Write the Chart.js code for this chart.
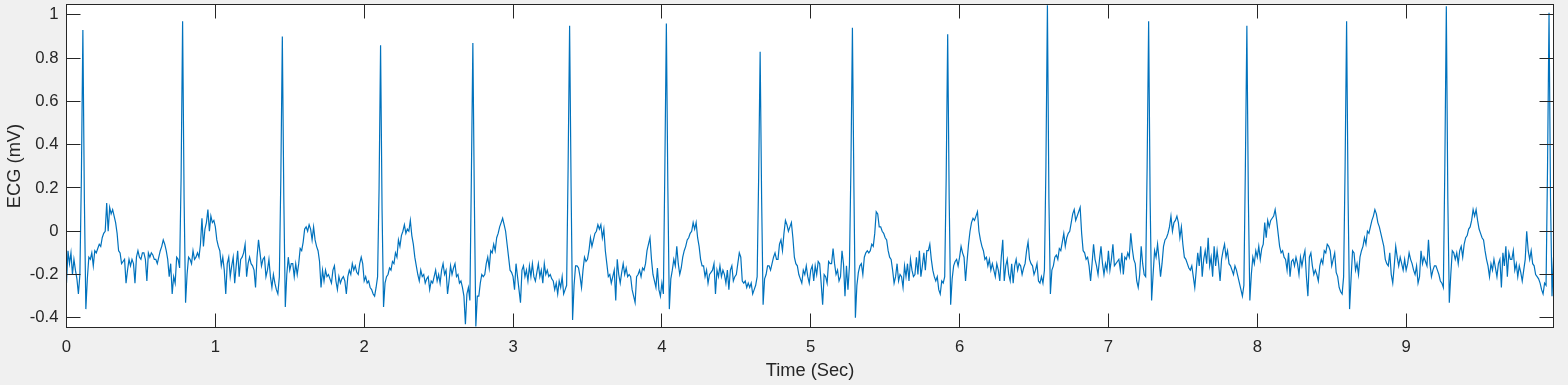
<!DOCTYPE html>
<html><head><meta charset="utf-8">
<script src="https://cdn.jsdelivr.net/npm/chart.js@4.4.1/dist/chart.umd.min.js"></script>
<style>html,body{margin:0;padding:0;background:#f0f0f0;overflow:hidden}canvas{display:block}</style>
</head><body><canvas id="c" width="1568" height="385"></canvas>
<script>
// ECG samples, one array per second, sampled every 0.01 s, values in hundredths of a mV
const SAMPLE_STEP_SEC = 0.01;
const VALUE_UNIT_MV = 0.01;
const s0 = [-24,-9,-15,-10,-20,-13,-18,-22,-29,-20, 25,93,15,-36,-22,-12,-13,-10,-16,-9, -10,-8,-6,-7,-3,-1,0,13,0,11, 8,10,7,4,-1,-9,-10,-15,-14,-13, -24,-18,-13,-16,-13,-15,-24,-12,-9,-12, -13,-10,-10,-13,-23,-10,-12,-10,-11,-13, -13,-15,-12,-9,-7,-4,-6,-9,-13,-21, -15,-29,-21,-24,-12,-13,-17,25,97,15, -33,-20,-12,-13,-15,-9,-13,-12,-10,-12, -6,6,-7,1,4,10,0,7,4,5];
const s1 = [2,-4,-7,-9,-16,-12,-18,-29,-15,-12, -21,-16,-12,-24,-16,-9,-21,-13,-12,-10, -6,-21,-15,-12,-15,-16,-18,-26,-12,-4, -10,-16,-13,-12,-21,-18,-13,-21,-26,-20, -24,-27,-29,-21,25,90,15,-35,-20,-12, -18,-15,-15,-21,-15,-20,-15,-8,-9,-5, 1,2,0,3,1,-4,2,-4,-7,-9, -14,-26,-18,-23,-18,-21,-20,-22,-24,-18, -16,-23,-27,-21,-24,-22,-21,-23,-29,-21, -18,-20,-15,-18,-16,-19,-20,-15,-12,-15];
const s2 = [-23,-21,-24,-23,-26,-27,-29,-30,-26,-21, 20,86,10,-35,-24,-21,-20,-17,-18,-14, -15,-10,-12,-4,-7,-2,0,3,-1,1, 0,5,-2,-6,-12,-16,-20,-23,-18,-21, -20,-24,-22,-21,-27,-23,-24,-21,-18,-23, -20,-24,-18,-15,-20,-18,-29,-23,-16,-20, -17,-15,-21,-20,-24,-23,-26,-30,-43,-29, -26,-32,25,87,15,-44,-30,-30,-24,-20, -21,-20,-15,-12,-17,-9,-10,-6,-9,-3, -1,2,4,6,3,0,-6,-12,-18,-19];
const s3 = [-21,-27,-15,-21,-27,-33,-18,-16,-21,-18, -23,-16,-21,-15,-21,-23,-19,-15,-21,-18, -24,-15,-20,-18,-21,-20,-22,-23,-27,-24, -29,-23,-26,-21,-29,-27,-25,30,95,20, -41,-25,-16,-16,-17,-21,-26,-18,-12,-14, -13,-9,-3,-7,-4,-1,0,3,1,3, -3,1,-9,-15,-21,-20,-24,-21,-18,-32, -13,-20,-24,-19,-15,-20,-17,-21,-20,-21, -27,-30,-33,-21,-20,-18,-21,-17,-18,-15, -9,-6,-3,-13,-20,-23,-26,-17,-27,-30];
const s4 = [-24,-29,30,96,20,-36,-22,-18,-13,-16, -7,-15,-20,-17,-12,-9,-7,-4,-3,-1, 0,4,1,4,-3,-7,-13,-16,-16,-21, -18,-24,-20,-19,-18,-15,-29,-18,-21,-16, -21,-18,-20,-24,-18,-27,-18,-16,-23,-21, -20,-15,-10,-12,-23,-24,-23,-26,-24,-26, -24,-29,-27,-25,-21,25,83,15,-34,-22, -20,-16,-16,-18,-15,-12,-10,-13,-13,-6, -4,-9,-1,5,3,0,2,4,-3,-12, -15,-16,-20,-22,-24,-18,-20,-16,-21,-24];
const s5 = [-18,-16,-23,-16,-20,-14,-15,-24,-34,-20, -21,-24,-14,-15,-15,-8,-15,-20,-18,-23, -21,-9,-15,-30,-16,-27,-16,30,94,20, -40,-25,-19,-16,-15,-20,-12,-10,-9,-10, -9,-6,-7,-1,9,8,2,2,0,-1, -3,-4,-9,-12,-13,-18,-24,-21,-15,-23, -20,-21,-26,-16,-21,-15,-23,-13,-18,-21, -20,-12,-20,-9,-21,-16,-10,-18,-9,-9, -6,-13,-18,-21,-23,-21,-27,-29,-23,-24, -21,25,91,15,-34,-22,-16,-14,-13,-16];
const s6 = [-12,-7,-10,-12,-23,-14,-6,0,4,6, 5,7,9,0,-4,-7,-9,-13,-12,-16, -13,-18,-15,-18,-21,-15,-18,-23,-12,-4, -23,-16,-13,-20,-23,-15,-24,-16,-13,-18, -15,-16,-20,-17,-15,-9,-5,-13,-15,-16, -20,-18,-15,-23,-24,-21,-24,-18,30,104.5, 15,-29,-18,-16,-12,-11,-13,-8,-9,-5, -1,-7,-3,-1,0,4,8,10,5,7, 9,11,-1,-9,-10,-13,-12,-16,-23,-15, -6,-13,-16,-20,-13,-7,-15,-20,-15,-18];
const s7 = [-9,-18,-13,-6,-16,-15,-14,-13,-18,-10, -20,-12,-13,-10,-12,-1,-8,-13,-15,-23, -26,-20,-7,-15,-20,-21,30,97,15,-32, -20,-9,-12,-6,-13,-21,-15,-7,-4,-3, -1,2,7,0,4,5,7,4,-3,2, -6,-12,-13,-15,-17,-18,-16,-21,-26,-18, -10,-16,-7,-21,-13,-9,-15,-3,-16,-12, -21,-7,-16,-9,-15,-23,-13,-9,-6,-12, -9,-15,-16,-18,-20,-16,-18,-21,-24,-27, -30,-25,30,95,15,-32,-20,-12,-15,-9];
const s8 = [-12,-7,-13,-8,-6,4,-3,5,2,5, 6,7,10,5,-1,-7,-10,-9,-12,-13, -18,-10,-21,-14,-13,-16,-12,-15,-20,-12, -16,-12,-9,-21,-30,-12,-10,-16,-20,-18, -20,-23,-16,-13,-15,-9,-10,-6,-7,-9, -16,-13,-10,-19,-21,-26,-28,-29,-21,30, 97,15,-36,-22,-9,-10,-18,-15,-20,-12, -9,-7,-3,-6,0,-1,2,5,7,10, 8,4,2,-1,-4,-7,-13,-15,-16,-10, -20,-24,-16,-7,-12,-16,-12,-15,-18,-13];
const s9 = [-18,-15,-10,-13,-15,-18,-20,-16,-24,-21, -9,-15,-12,-14,-16,-4,-15,-21,-18,-16, -16,-18,-20,-23,-24,-26,30,104,15,-33, -20,-9,-10,-13,-10,-15,-9,-7,-12,-6, -3,-2,1,2,5,10,7,10,5,1, -1,-3,-4,-9,-13,-16,-21,-15,-18,-13, -17,-21,-15,-13,-26,-10,-16,-7,-21,-10, -13,-13,-9,-18,-15,-21,-16,-19,-23,-18, -13,0,-9,-13,-9,-15,-16,-20,-21,-22, -24,-27,-29,-24,-25,30,101,15,-30,-12];

const xTicks = [0,1,2,3,4,5,6,7,8,9];
const xTickLabels = ['0','1','2','3','4','5','6','7','8','9'];
const yTicks = [-0.4,-0.2,0,0.2,0.4,0.6,0.8,1];
const yTickLabels = ['-0.4','-0.2','0','0.2','0.4','0.6','0.8','1'];
const xRange = [0, 9.99];
const yRange = [-0.445, 1.048];
const xTitle = 'Time (Sec)';
const yTitle = 'ECG (mV)';

const samples = [].concat(s0,s1,s2,s3,s4,s5,s6,s7,s8,s9);
const points = samples.map((v,i) => ({x: +(i*SAMPLE_STEP_SEC).toFixed(2), y: v*VALUE_UNIT_MV}));

const AXIS = '#262626';
const FONT = "'Liberation Sans', Arial, Helvetica, sans-serif";
const TICK_LEN = 14;

const matlabAxes = {
  id: 'matlabAxes',
  beforeDraw(chart) {
    const {ctx, chartArea: a} = chart;
    ctx.save();
    ctx.fillStyle = '#ffffff';
    ctx.fillRect(a.left, a.top, a.right - a.left, a.bottom - a.top);
    ctx.restore();
  },
  afterDraw(chart) {
    const {ctx, chartArea: a, scales} = chart;
    ctx.save();
    ctx.strokeStyle = AXIS;
    ctx.lineWidth = 1;
    ctx.beginPath();
    scales.x.ticks.forEach(t => {
      const px = Math.round(scales.x.getPixelForValue(t.value) - 0.5) + 0.5;
      ctx.moveTo(px, a.bottom); ctx.lineTo(px, a.bottom - TICK_LEN);
      ctx.moveTo(px, a.top); ctx.lineTo(px, a.top + TICK_LEN);
    });
    scales.y.ticks.forEach(t => {
      const py = Math.round(scales.y.getPixelForValue(t.value) - 0.5) + 0.5;
      ctx.moveTo(a.left, py); ctx.lineTo(a.left + TICK_LEN, py);
      ctx.moveTo(a.right, py); ctx.lineTo(a.right - TICK_LEN, py);
    });
    ctx.stroke();
    ctx.strokeRect(a.left, a.top, a.right - a.left, a.bottom - a.top);
    ctx.restore();
  }
};

new Chart(document.getElementById('c'), {
  type: 'line',
  data: { datasets: [{
    data: points,
    borderColor: '#0072bd',
    borderWidth: 1.2,
    pointRadius: 0,
    tension: 0,
    fill: false
  }]},
  options: {
    responsive: false,
    animation: false,
    devicePixelRatio: 1,
    parsing: false,
    normalized: true,
    layout: { padding: { top: 4.5, right: 14.5, bottom: 0, left: 0 } },
    plugins: { legend: { display: false }, tooltip: { enabled: false } },
    scales: {
      x: {
        type: 'linear', min: xRange[0], max: xRange[1],
        afterBuildTicks: s => { s.ticks = xTicks.map(v => ({value: v})); },
        afterFit: s => { s.height = 57.5; s.paddingLeft = 0; s.paddingRight = 0; },
        grid: { display: false, drawTicks: false },
        border: { display: false },
        ticks: { autoSkip: false, maxRotation: 0, padding: 10, color: AXIS,
          font: { family: FONT, size: 16.7 },
          callback: (v, i) => xTickLabels[i] },
        title: { display: true, text: xTitle, color: AXIS,
          font: { family: FONT, size: 18.3 }, padding: { top: 0, bottom: 3 } }
      },
      y: {
        type: 'linear', min: yRange[0], max: yRange[1],
        afterBuildTicks: s => { s.ticks = yTicks.map(v => ({value: v})); },
        afterFit: s => { s.width = 66.5; s.paddingTop = 0; s.paddingBottom = 0; },
        grid: { display: false, drawTicks: false },
        border: { display: false },
        ticks: { autoSkip: false, padding: 8, color: AXIS,
          font: { family: FONT, size: 16.7 },
          callback: (v, i) => yTickLabels[i] },
        title: { display: true, text: yTitle, color: AXIS,
          font: { family: FONT, size: 18.3 }, padding: { top: 4, bottom: 0 } }
      }
    }
  },
  plugins: [matlabAxes]
});
</script>
</body></html>
